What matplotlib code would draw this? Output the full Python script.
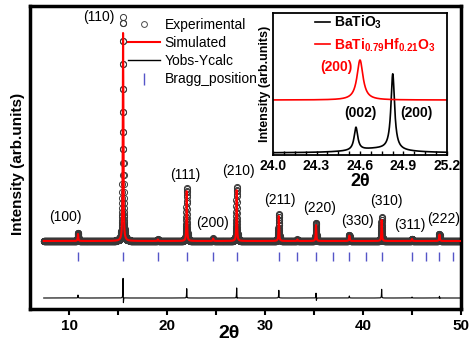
import numpy as np
import matplotlib
matplotlib.use("Agg")
import matplotlib.pyplot as plt
from matplotlib.ticker import MultipleLocator
from matplotlib.lines import Line2D

plt.rcParams['font.family'] = ['Liberation Sans', 'DejaVu Sans']
plt.rcParams['mathtext.fontset'] = 'custom'
plt.rcParams['mathtext.rm'] = 'Liberation Sans:bold'
plt.rcParams['mathtext.it'] = 'Liberation Sans:bold'
plt.rcParams['mathtext.bf'] = 'Liberation Sans:bold'

# ---- main pattern: peaks (2theta, heights above background)
baseline = 68
peak_pos = [10.9, 15.5, 19.05, 22.0, 24.7, 27.1, 31.4, 33.3, 35.2, 38.6, 41.9, 45.0, 47.8]
peak_obs = [8, 224, 1.5, 53, 2.5, 54, 27, 1.5, 18, 6, 24, 2, 7]
peak_calc = [7, 208, 1.5, 50, 2.5, 51, 25, 1.5, 16, 5.5, 21, 2, 6.5]
diff_base = 11
diff_up = [3, 23, 0, 10, 0, 11, 8, 0, 6, 2, 9, 1, 2]
diff_down = [0, 11, 0, 2, 0, 3, 1, 0, 4, 0, 1, 0, 1]
bragg_pos = [10.9, 15.5, 19.05, 22.0, 24.7, 27.1, 31.4, 33.3, 35.2, 36.9, 38.6,
             40.3, 41.9, 45.0, 46.4, 47.8, 49.2]
bragg_lo, bragg_hi = 48, 57

hkl_labels = ['(100)', '(110)', '(111)', '(200)', '(210)', '(211)', '(220)',
              '(330)', '(310)', '(311)', '(222)']
hkl_x = [9.66, 13.0, 21.9, 24.6, 27.3, 31.5, 35.6, 39.4, 42.4, 44.8, 48.2]
hkl_y = [92, 292, 134, 86, 138, 109, 101, 88, 108, 84, 90]

# ---- inset: BaTiO3 vs BaTi0.79Hf0.21O3 around 24-25.2 deg
bto_pos = [24.572, 24.826]
bto_h = [23, 76]
bto_bg = 2
bto_hump = 4
bhf_pos = [24.60]
bhf_h = [40]
bhf_bg = 55
inset_labels = ['(200)', '(002)', '(200)']
inset_lab_x = [24.44, 24.60, 24.99]
inset_lab_y = [88, 42, 42]
inset_lab_col = ['red', 'black', 'black']


def lorentz(x, pos, h, w):
    y = np.zeros_like(x)
    for p, a in zip(pos, h):
        y += a / (1 + (2 * (x - p) / w) ** 2)
    return y


tt = np.arange(7.4, 50.0, 0.006)
y_obs = baseline + lorentz(tt, peak_pos, peak_obs, 0.07)
y_calc = baseline + lorentz(tt, peak_pos, peak_calc, 0.07)
off = [p + 0.03 for p in peak_pos]
y_diff = diff_base + lorentz(tt, peak_pos, diff_up, 0.04) - lorentz(tt, off, diff_down, 0.04)

fig = plt.figure(figsize=(4.74, 3.51), dpi=100)
ax = fig.add_axes([30 / 474, 1 - 309 / 351, 431 / 474, 303 / 351])

ax.plot(tt, y_obs, linestyle='none', marker='o', markersize=4.4, markerfacecolor='none',
        markeredgecolor='#383838', markeredgewidth=0.7, zorder=2)
ax.plot(tt, y_calc, color='red', lw=1.5, zorder=3)
ax.plot(tt, y_diff, color='black', lw=0.8, zorder=3)
ax.vlines(bragg_pos, bragg_lo, bragg_hi, color='#5555c8', lw=1.0)

for t, x, y in zip(hkl_labels, hkl_x, hkl_y):
    ax.text(x, y, t, fontsize=10, ha='center', va='center')

ax.set_xlim(6, 50)
ax.set_ylim(0, 303)
ax.xaxis.set_major_locator(MultipleLocator(10))
ax.xaxis.set_minor_locator(MultipleLocator(5))
ax.tick_params(axis='x', which='both', direction='out', length=4, width=1.5,
               labelsize=11, pad=3)
ax.tick_params(axis='y', left=False, labelleft=False)
for lab in ax.get_xticklabels():
    lab.set_fontweight('bold')
for s in ax.spines.values():
    s.set_linewidth(2.5)

handles = [
    Line2D([], [], linestyle='none', marker='o', markersize=4.2, markerfacecolor='none',
           markeredgecolor='#4a4a4a', markeredgewidth=0.7),
    Line2D([], [], color='red', lw=1.5),
    Line2D([], [], color='black', lw=1.0),
    Line2D([], [], linestyle='none', marker='|', markersize=8, color='#5555c8'),
]
ax.legend(handles, ['Experimental', 'Simulated', 'Yobs-Ycalc', 'Bragg_position'],
          loc='upper left', bbox_to_anchor=(128 / 474, 1 - 18 / 351),
          bbox_transform=fig.transFigure, frameon=False, fontsize=10,
          handlelength=2.3, handletextpad=0.35, labelspacing=0.3,
          borderpad=0, borderaxespad=0)

fig.text(18 / 474, 1 - 164 / 351, 'Intensity (arb.units)', rotation=90, fontsize=11,
         fontweight='bold', ha='center', va='center')
fig.text(229 / 474, 1 - 334 / 351, '2θ', fontsize=14, fontweight='bold',
         ha='center', va='center')

# ---- inset
ins = fig.add_axes([273 / 474, 1 - 155 / 351, 174 / 474, 142 / 351])
xs = np.linspace(24.0, 25.2, 1200)
y_bto = bto_bg + bto_hump / (1 + ((xs - 24.72) / 0.2) ** 2) + lorentz(xs, bto_pos, bto_h, 0.03)
y_bhf = bhf_bg + lorentz(xs, bhf_pos, bhf_h, 0.05)
ins.plot(xs, y_bto, color='black', lw=1.2, label='BaTiO$_3$')
ins.plot(xs, y_bhf, color='red', lw=1.2, label='BaTi$_{0.79}$Hf$_{0.21}$O$_3$')
for t, x, y, c in zip(inset_labels, inset_lab_x, inset_lab_y, inset_lab_col):
    ins.text(x, y, t, fontsize=10, fontweight='bold', color=c, ha='center', va='center')

ins.set_xlim(24.0, 25.2)
ins.set_ylim(0, 142)
ins.set_xticks([24.0, 24.3, 24.6, 24.9, 25.2])
ins.xaxis.set_minor_locator(MultipleLocator(0.075))
ins.tick_params(axis='x', which='both', direction='in', length=3, width=1.0,
                labelsize=10, pad=3)
ins.tick_params(axis='y', left=False, labelleft=False)
for lab in ins.get_xticklabels():
    lab.set_fontweight('bold')
for s in ins.spines.values():
    s.set_linewidth(1.3)
leg = ins.legend(loc='upper left', bbox_to_anchor=(315 / 474, 1 - 14 / 351),
                 bbox_transform=fig.transFigure, frameon=False, fontsize=10,
                 handlelength=1.1, handletextpad=0.3, labelspacing=0.35,
                 borderpad=0, borderaxespad=0)
leg.get_texts()[0].set_fontweight('bold')
leg.get_texts()[1].set_fontweight('bold')
leg.get_texts()[1].set_color('red')
fig.text(265 / 474, 1 - 84 / 351, 'Intensity (arb.units)', rotation=90, fontsize=9,
         fontweight='bold', ha='center', va='center')
fig.text(360 / 474, 1 - 181 / 351, '2θ', fontsize=13, fontweight='bold',
         ha='center', va='center')

fig.savefig('out.png', dpi=100)
